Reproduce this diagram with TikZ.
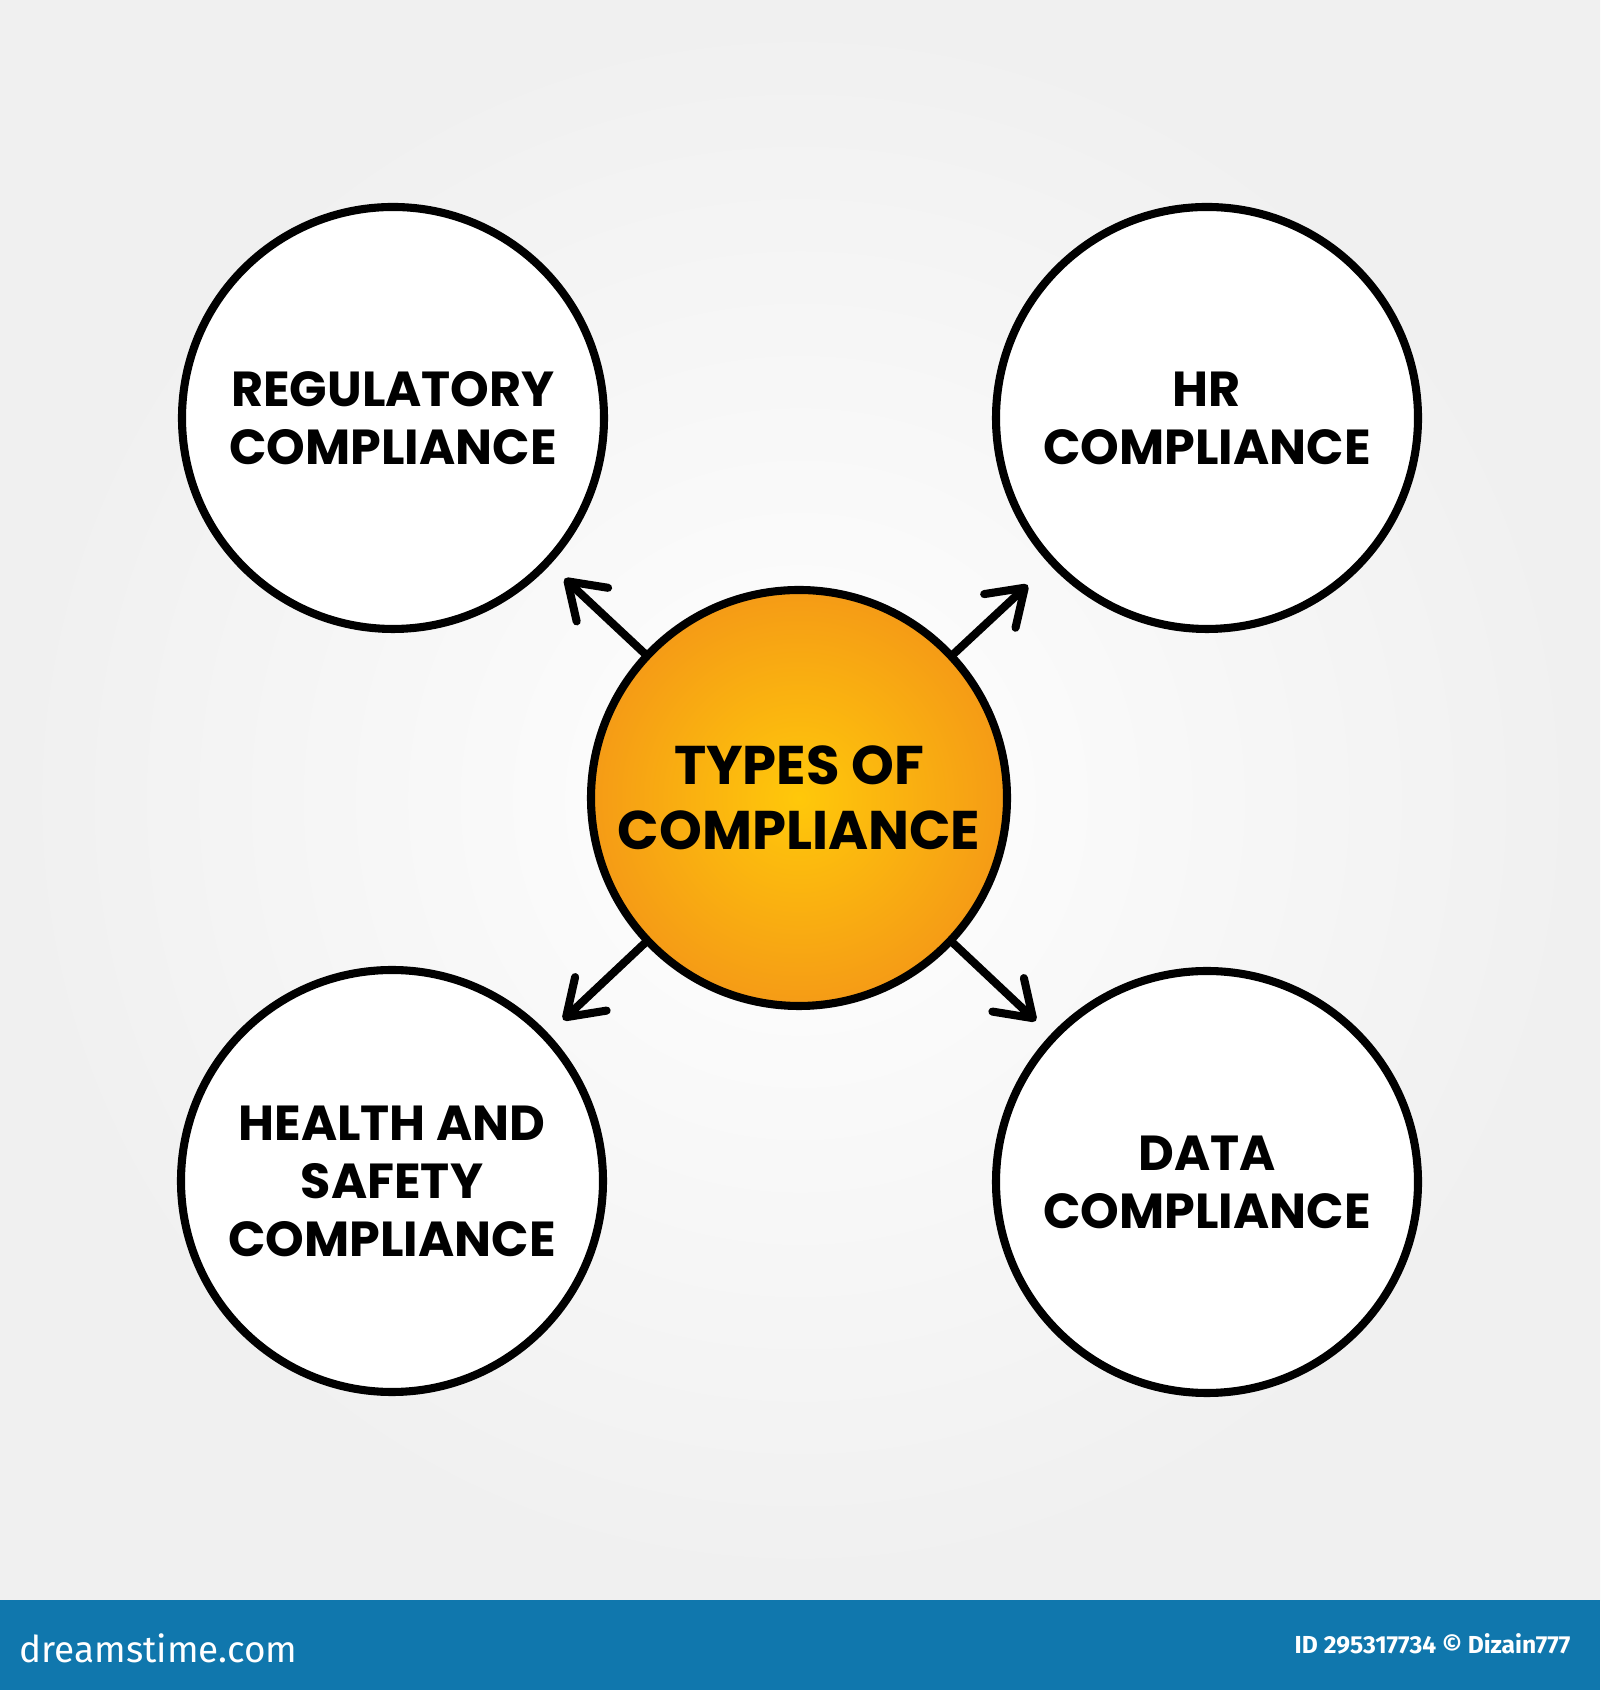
\documentclass[tikz,border=0pt]{standalone}
\usepackage{fontspec}
\setmainfont{Poppins}
\newfontfamily\barfont{Fira Sans}
\usepackage{tikz}
\usetikzlibrary{arrows.meta,calc,positioning}
\usepackage{xcolor}
\definecolor{barblue}{HTML}{1077AD}
\definecolor{hubedge}{HTML}{F59B16}
\definecolor{hubcore}{HTML}{FFC80A}
\tikzset{
        bubble/.style = {draw, circle, line width=2.3pt,
            fill=white,
            minimum size=4.22cm, inner sep=0pt,
            align=center,
            font=\bfseries\fontsize{14}{16.5}\selectfont},
        hub/.style = {bubble, minimum size=4.16cm,
            inner color=hubcore, outer color=hubedge,
            font=\bfseries\fontsize{15.5}{18.5}\selectfont},
        arrow/.style = {draw, line width=2.3pt, line cap=round,
            -{Straight Barb[round,length=3.4mm,width=4.6mm]},
            shorten >=2mm},
        bartext/.style = {text=white, inner sep=0pt},
    }

\begin{document}
\begin{tikzpicture}
                    \shade[inner color=white, outer color=black!6] (-7.99,-8.02) rectangle (8.01,7.98);
                    \fill[barblue] (-7.99,-8.92) rectangle (8.01,-8.02);
                    \useasboundingbox (-7.99,-8.92) rectangle (8.01,7.98);

                    \node[hub] (core) at (0,0) {TYPES OF\\COMPLIANCE};
                    \node[bubble] (reg) at ($(core) + (-4.06,3.80)$) {REGULATORY\\COMPLIANCE};
                    \node[bubble] (hr) at ($(core) + (4.08,3.80)$) {HR\\COMPLIANCE};
                    \node[bubble] (hs) at ($(core) + (-4.07,-3.83)$) {HEALTH AND\\SAFETY\\COMPLIANCE};
                    \node[bubble] (data) at ($(core) + (4.08,-3.84)$) {DATA\\COMPLIANCE};

                    \draw[arrow] (core) -- (reg);
                    \draw[arrow, shorten >=3mm] (core) -- (hr);
                    \draw[arrow] (core) -- (hs);
                    \draw[arrow] (core) -- (data);

                    \node[bartext, anchor=base west, font=\barfont\fontsize{10.5}{12}\selectfont] (site) at (-7.80,-8.64) {dreamstime.com};
                    \node[bartext, anchor=base east, font=\barfont\bfseries\fontsize{7}{8}\selectfont] (credit) at (7.72,-8.55) {ID 295317734 © Dizain777};
\end{tikzpicture}
\end{document}
